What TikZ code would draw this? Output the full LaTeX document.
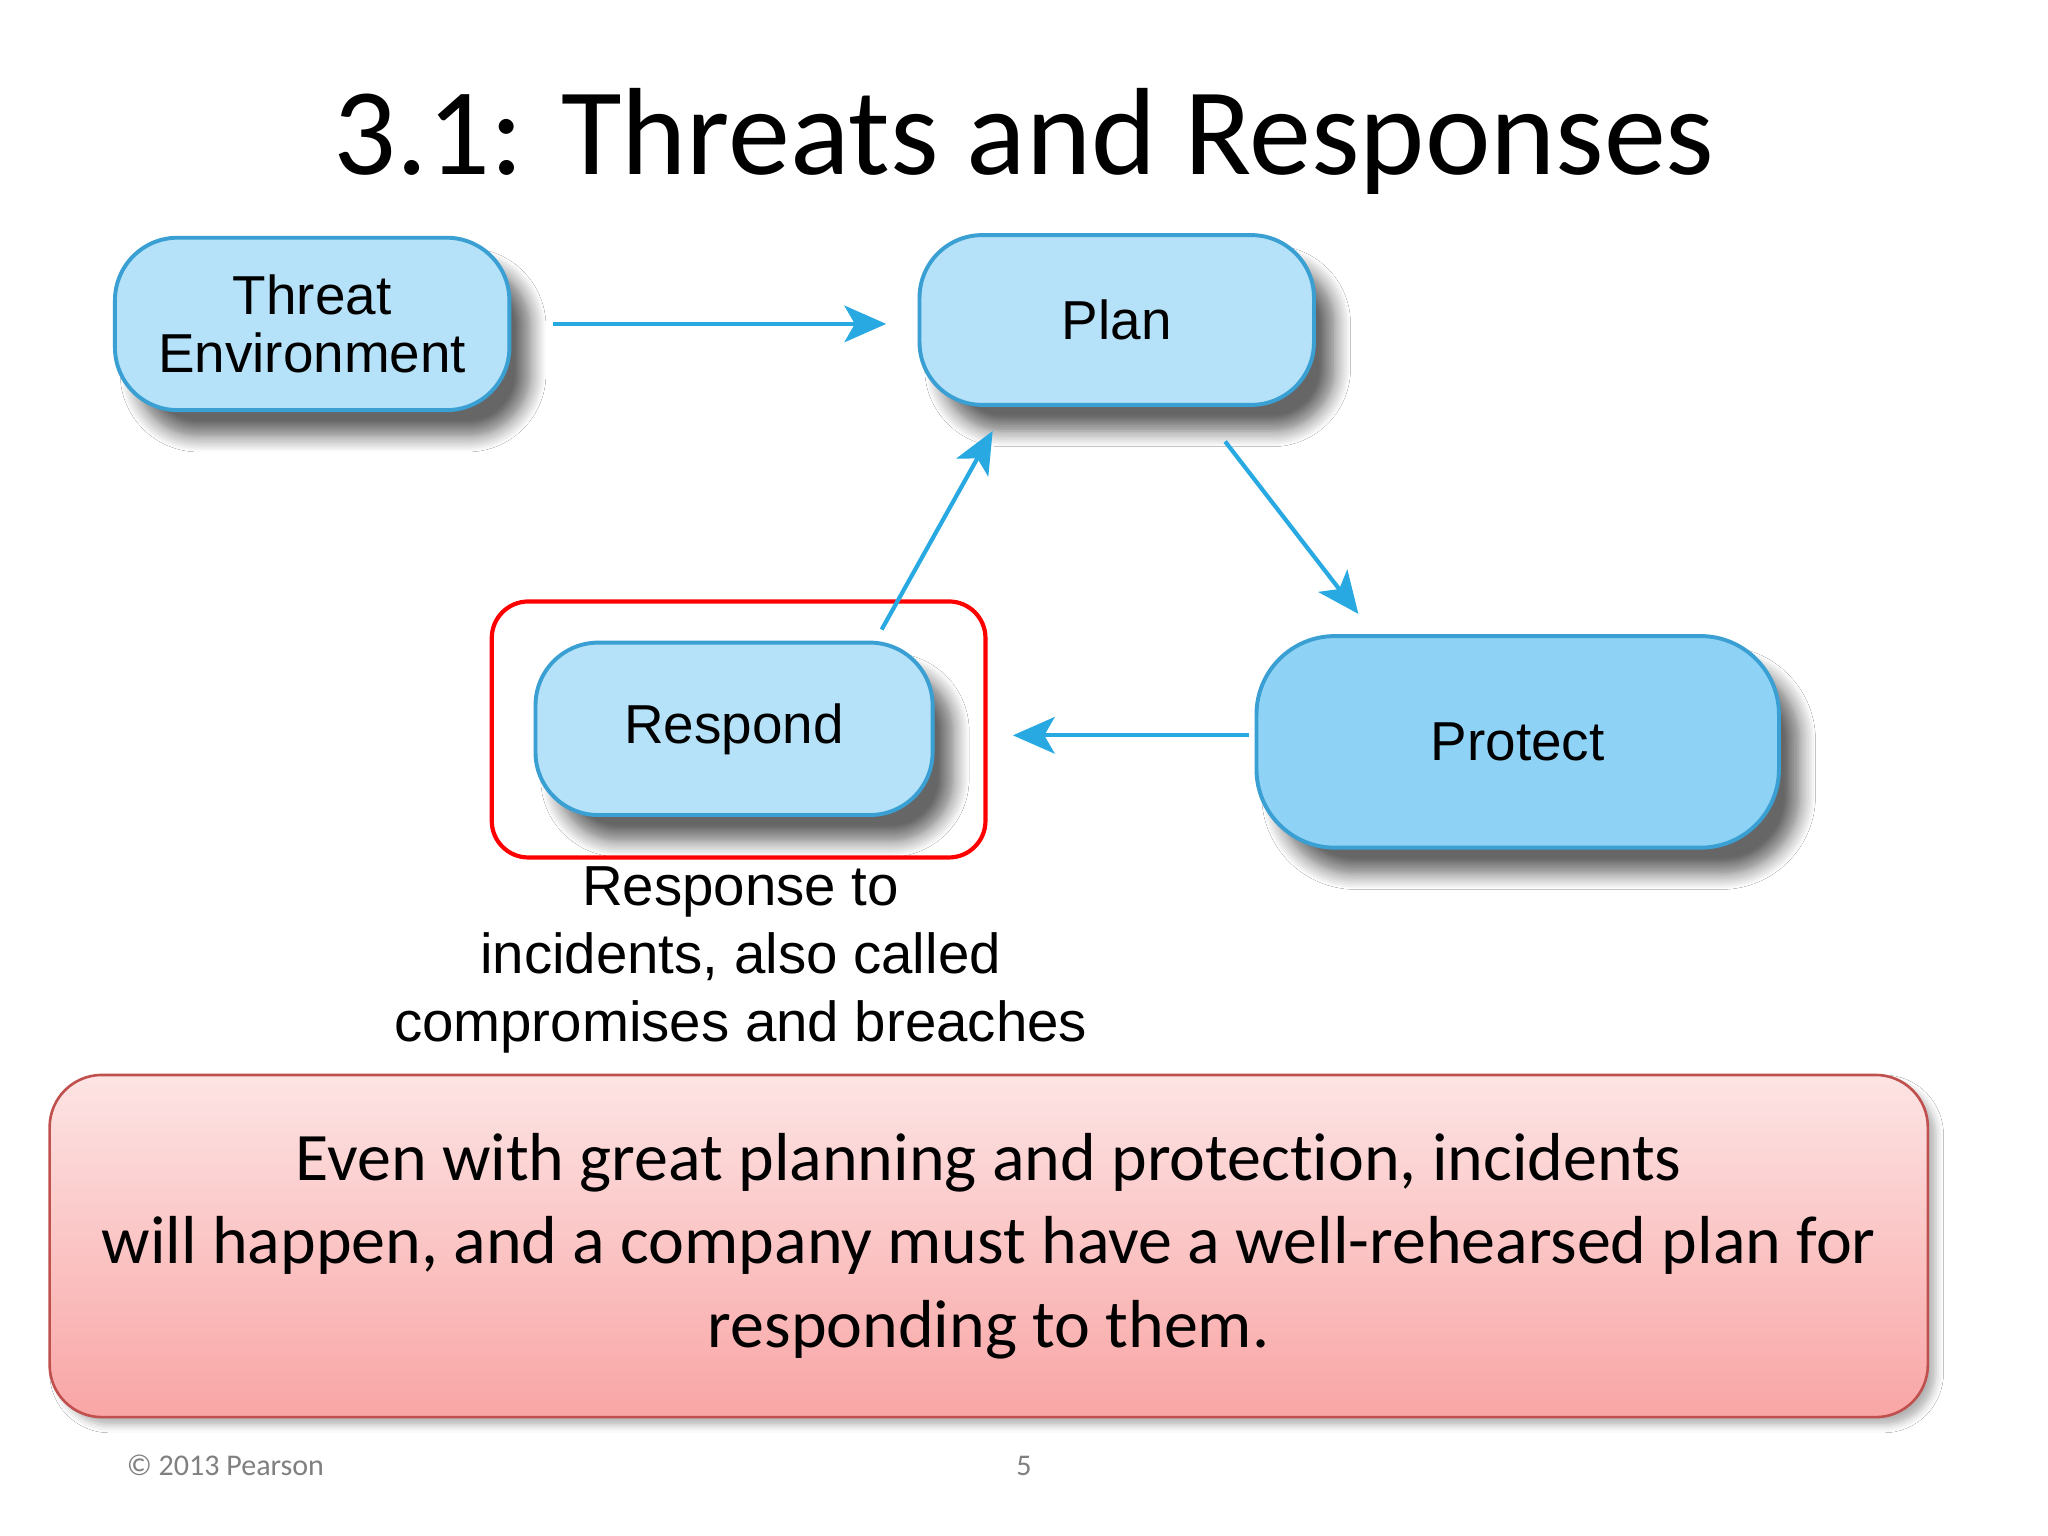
\documentclass[tikz,border=0pt]{standalone}
\usepackage{fontspec}
\setmainfont[Ligatures=NoCommon]{Carlito}
\newfontfamily\arialfont{Liberation Sans}
\usetikzlibrary{shadows.blur,arrows.meta}
\definecolor{boxblue}{HTML}{B5E2F8}
\definecolor{boxdeep}{HTML}{8ED3F5}
\definecolor{boxline}{HTML}{3A9FD2}
\definecolor{arrowblue}{HTML}{29A9E1}
\definecolor{pinktop}{HTML}{FDE4E4}
\definecolor{pinkbot}{HTML}{F9A5A5}
\definecolor{pinkline}{HTML}{C0504D}
\tikzset{
  phase/.style={draw=boxline, line width=1.5pt, rounded corners=24pt, fill=boxblue,
    font=\arialfont\fontsize{21}{25}\selectfont, align=center,
    blur shadow={shadow xshift=8pt, shadow yshift=-10pt, shadow blur radius=6pt, shadow blur steps=10, shadow opacity=60}},
  flow/.style={draw=arrowblue, line width=1.6pt, -{Stealth[length=16pt, width=14pt, inset=4pt]}}
}
\begin{document}
\begin{tikzpicture}[x=0.5pt, y=-0.5pt]
\useasboundingbox[fill=white] (0,0) rectangle (1568,1176);
\node (title) at (784,108) {\fontsize{47.5}{56}\selectfont 3.1: Threats and Responses};

% cycle
\node (threat)  [phase, minimum width=151pt, minimum height=66pt] at (239,248) {Threat\\[-3pt]Environment};
\node (plan)    [phase, minimum width=151pt, minimum height=65pt] at (855,245) {Plan};
\node (respond) [phase, minimum width=152pt, minimum height=66pt] at (562,558) {Respond};
\node (protect) [phase, fill=boxdeep, minimum width=200pt, minimum height=81pt, rounded corners=30pt] at (1162,568) {Protect};
\node (focus) [draw=red, line width=1.6pt, rounded corners=14pt, minimum width=189pt, minimum height=98pt] at (565.5,558.5) {};

\coordinate (planin)  at (760,330);
\coordinate (respout) at (675,482);
\coordinate (planout) at (938,338);
\coordinate (protin)  at (1040,470);
\draw[flow, shorten <=16pt, shorten >=12pt] (threat) -- (threat -| plan.west);
\draw[flow] (planout) -- (protin);
\draw[flow, shorten <=2pt, shorten >=30pt] (protect.west |- 0,563) -- (respond.east |- 0,563);
\draw[flow] (respout) -- (planin);

\node (note) [font=\arialfont\fontsize{21.6}{26}\selectfont, align=center] at (567,735)
  {Response to\\incidents, also called\\compromises and breaches};

% message
\node (msg) [draw=pinkline, line width=1pt, rounded corners=20pt, top color=pinktop, bottom color=pinkbot,
  minimum width=719pt, minimum height=131pt, inner sep=0pt, align=center, font=\fontsize{26}{32}\selectfont,
  blur shadow={shadow xshift=3pt, shadow yshift=-3pt, shadow blur radius=3pt, shadow opacity=30}] at (757,954)
  {Even with great planning and protection, incidents\\will happen, and a company must have a well-rehearsed plan for\\responding to them.};

\node (copy) [anchor=west, text=gray, font=\fontsize{11.5}{14}\selectfont] at (90,1122) {© 2013 Pearson};
\node (page) [text=gray, font=\fontsize{11.5}{14}\selectfont] at (784,1122) {5};
\end{tikzpicture}
\end{document}
